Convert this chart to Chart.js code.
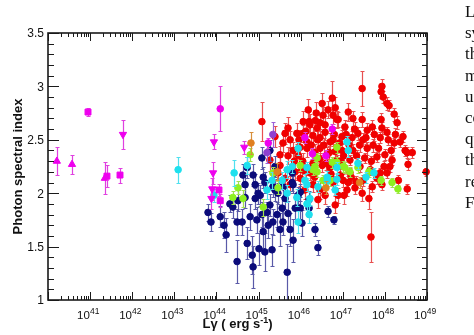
<!DOCTYPE html>
<html>
<head>
<meta charset="utf-8">
<script src="https://cdn.jsdelivr.net/npm/chart.js@4.4.1/dist/chart.umd.min.js"></script>
<style>
  html, body { margin: 0; padding: 0; background: #fff; overflow: hidden; }
  #wrap { position: relative; width: 474px; height: 335px; }
  #page-text {
    position: absolute; left: 465px; top: 1px;
    font-family: "Liberation Serif", "DejaVu Serif", serif;
    font-size: 17px; line-height: 21.2px; color: #111; white-space: nowrap;
  }
</style>
</head>
<body>
<div id="wrap">
  <canvas id="chart"></canvas>
  <div id="page-text">Lum<br>syn<br>the<br>mod<br>use<br>com<br>qua<br>the<br>rel<br>Fig</div>
</div>
<script>
// each point: [log10 L_gamma, photon index, error]
const fsrqPoints = [
  [45.08,2.67,0.18],[45.63,2.56,0.10],[45.39,2.53,0.10],[45.58,2.47,0.08],[45.75,2.50,0.08],[45.91,2.56,0.10],[46.06,2.56,0.08],[45.99,2.43,0.08],
  [46.51,2.84,0.10],[46.75,2.89,0.16],[46.65,2.78,0.08],[46.82,2.80,0.10],[46.86,2.69,0.08],[46.58,2.64,0.08],[46.22,2.64,0.10],[46.39,2.61,0.08],
  [46.29,2.54,0.08],[46.46,2.52,0.08],[46.70,2.48,0.08],[46.15,2.42,0.08],[46.34,2.38,0.08],[46.63,2.36,0.07],[46.82,2.39,0.07],[46.51,2.26,0.06],
  [46.70,2.24,0.06],[45.51,2.26,0.08],[45.82,2.40,0.08],[47.46,2.98,0.16],[47.93,3.00,0.07],[47.91,2.95,0.06],[47.96,2.90,0.06],[48.05,2.84,0.06],
  [48.10,2.82,0.05],[48.22,2.74,0.06],[48.29,2.66,0.06],[47.91,2.69,0.06],[47.93,2.61,0.06],[48.05,2.57,0.05],[47.89,2.52,0.05],[48.08,2.50,0.05],
  [48.22,2.47,0.05],[48.36,2.48,0.05],[48.43,2.53,0.05],[48.48,2.40,0.05],[48.53,2.38,0.05],[48.55,2.27,0.05],[48.98,2.20,0.04],[46.20,2.67,0.10],
  [46.37,2.75,0.10],[46.46,2.66,0.08],[46.53,2.73,0.08],[46.77,2.73,0.08],[46.89,2.69,0.07],[47.13,2.76,0.08],[47.24,2.70,0.07],[47.05,2.62,0.07],
  [47.46,2.69,0.07],[47.58,2.59,0.07],[47.70,2.62,0.07],[47.36,2.56,0.06],[47.48,2.50,0.06],[47.72,2.45,0.06],[47.22,2.52,0.06],[46.98,2.53,0.06],
  [46.77,2.50,0.06],[46.58,2.57,0.07],[46.06,2.67,0.10],[46.15,2.48,0.08],[46.46,2.42,0.06],[46.98,2.40,0.06],[47.24,2.40,0.06],[47.58,2.42,0.06],
  [47.81,2.34,0.05],[48.00,2.36,0.05],[48.17,2.31,0.05],[47.17,2.31,0.05],[46.86,2.31,0.05],[47.41,2.25,0.05],[47.65,2.22,0.05],[47.89,2.19,0.05],
  [46.70,2.25,0.05],[46.29,2.28,0.06],[48.65,2.38,0.05],[48.32,2.12,0.05],[48.53,2.04,0.05],[48.05,2.19,0.05],[48.12,2.25,0.05],[47.81,2.14,0.05],
  [47.93,2.08,0.05],[47.70,2.06,0.05],[47.46,2.00,0.07],[47.62,1.95,0.10],[47.29,2.05,0.06],[47.13,2.10,0.06],[47.03,1.98,0.08],[46.89,1.98,0.07],
  [47.31,2.11,0.05],[47.48,2.12,0.05],[47.17,2.19,0.05],[46.77,2.10,0.06],[47.01,2.12,0.06],[45.46,2.19,0.08],[46.46,2.03,0.08],[46.29,2.08,0.07],
  [47.67,1.59,0.23],[45.99,2.14,0.07],[46.10,2.03,0.08],[46.58,1.98,0.08],[46.41,1.94,0.08],[46.82,1.89,0.08],[45.87,2.20,0.08],[45.75,2.08,0.08],
  [45.63,2.14,0.08],[46.22,2.19,0.07],[46.94,2.17,0.06],[47.10,2.03,0.06],[45.70,2.61,0.10],[45.27,2.31,0.10],[45.51,2.36,0.08],[46.18,2.78,0.10],
  [46.05,2.30,0.08],[46.12,2.20,0.07],[46.25,2.45,0.08],[46.33,2.15,0.07],[46.40,2.50,0.08],[46.45,2.32,0.06],[46.55,2.45,0.07],[46.60,2.28,0.06],
  [46.68,2.38,0.06],[46.72,2.18,0.06],[46.80,2.55,0.07],[46.92,2.47,0.06],[46.95,2.30,0.06],[47.02,2.35,0.06],[47.08,2.55,0.07],[47.15,2.45,0.06],
  [47.20,2.15,0.05],[47.28,2.60,0.07],[47.33,2.35,0.05],[47.40,2.45,0.06],[47.52,2.33,0.05],[47.55,2.52,0.06],[47.68,2.30,0.05],[47.75,2.55,0.06],
  [47.85,2.42,0.05],[47.98,2.25,0.05],[48.15,2.40,0.05],[48.25,2.55,0.06],[45.85,2.30,0.08],[45.95,2.35,0.08],[46.02,2.22,0.07],[45.70,2.35,0.08],
  [46.35,2.68,0.10],[46.12,2.58,0.09],[45.96,2.50,0.09]
];
const bllacPoints = [
  [43.80,1.82,0.08],[43.87,1.73,0.08],[44.09,1.78,0.10],[44.18,1.70,0.12],[44.23,1.61,0.16],[44.32,1.90,0.08],[44.39,1.87,0.10],[44.49,1.36,0.20],
  [44.49,1.73,0.12],[44.51,1.93,0.10],[44.61,1.73,0.12],[44.68,1.96,0.10],[44.73,1.53,0.15],[44.80,1.78,0.12],[44.85,1.42,0.18],[44.87,1.31,0.20],
  [44.92,1.95,0.10],[44.96,1.75,0.12],[45.01,1.48,0.15],[45.08,1.80,0.12],[45.11,1.64,0.15],[45.15,1.45,0.18],[45.20,1.82,0.10],[45.23,1.70,0.12],
  [45.27,1.89,0.10],[45.32,1.47,0.15],[45.34,1.73,0.12],[45.39,2.03,0.10],[45.44,1.80,0.12],[45.51,1.66,0.15],[45.56,1.86,0.10],[45.58,1.73,0.12],
  [45.63,1.95,0.10],[45.68,1.26,0.26],[45.70,1.81,0.12],[45.75,1.66,0.15],[45.80,2.10,0.08],[45.82,1.56,0.20],[45.87,1.86,0.10],[45.94,1.98,0.08],
  [45.99,1.86,0.10],[46.03,1.72,0.12],[46.20,1.94,0.08],[46.20,1.86,0.08],[46.34,1.66,0.06],[46.41,1.49,0.07],[46.65,1.83,0.05],[46.79,1.75,0.04],
  [45.27,2.40,0.10],[45.08,2.33,0.10],[44.73,2.24,0.10],[44.87,2.17,0.10],[45.11,2.15,0.10],[45.39,2.25,0.10],[44.92,2.08,0.10],[45.34,2.06,0.10],
  [45.58,2.06,0.10],[45.82,2.08,0.08],[45.99,2.01,0.08],[44.68,2.08,0.10],[45.04,1.98,0.10],[44.63,2.17,0.10],[45.80,2.19,0.08],[45.15,2.10,0.10],
  [45.46,2.00,0.10],[44.99,2.00,0.10]
];
const cyanPoints = [
  [43.09,2.22,0.12],[43.94,1.98,0.06],[44.42,2.19,0.12],[44.73,2.26,0.08],[45.94,2.42,0.06],[45.68,2.22,0.08],[45.80,2.25,0.06],[45.56,2.12,0.08],
  [46.15,2.08,0.06],[46.41,2.06,0.05],[46.63,2.15,0.06],[47.10,2.48,0.06],[47.13,2.40,0.06],[47.36,2.28,0.05],[46.86,2.24,0.05],[46.15,2.24,0.05],
  [47.55,2.15,0.05],[47.74,2.19,0.05],[46.86,2.13,0.05],[46.82,2.03,0.05],[46.63,2.12,0.05],[46.22,1.95,0.06],[46.15,1.90,0.06],[45.94,1.73,0.10],
  [46.20,1.80,0.08],[45.32,2.12,0.08],[45.68,2.00,0.08],[45.91,1.96,0.08],[46.10,2.12,0.06],[45.20,2.03,0.08]
];
const greenPoints = [
  [44.80,2.36,0.06],[46.86,2.43,0.05],[45.99,2.26,0.05],[46.39,2.20,0.05],[46.53,2.12,0.05],[44.63,1.95,0.08],[45.34,2.19,0.06],[46.75,2.29,0.05],
  [47.01,2.25,0.05],[46.34,2.25,0.05],[46.39,2.33,0.05],[47.91,2.12,0.04],[48.17,2.10,0.04],[48.31,2.04,0.04],[46.86,2.29,0.05],[47.05,2.24,0.05],
  [47.17,2.20,0.05],[47.36,2.24,0.05],[47.62,2.20,0.05],[46.70,2.12,0.05],[46.29,2.22,0.05],[44.51,2.05,0.06],[45.46,2.05,0.06],[45.11,1.87,0.08],
  [44.39,1.96,0.06]
];
const orangePoints = [[44.82,2.47,0.10],[45.44,2.20,0.08],[46.60,2.05,0.06],[47.40,2.10,0.05]];
const purplePoints = [[45.34,2.55,0.12],[45.20,2.38,0.10]];
const magTriPoints = [[40.21,2.30,0.13],[40.57,2.27,0.09],[41.35,2.14,0.15]];
const magSquarePoints = [[40.95,2.76,0.04],[41.40,2.16,0.10],[41.71,2.17,0.07],[44.06,2.03,0.06],[44.09,1.93,0.06]];
const magInvPoints = [[41.78,2.55,0.14],[43.94,2.48,0.07],[43.92,2.19,0.10],[43.90,2.04,0.10],[43.88,1.95,0.10],[44.66,2.43,0.06]];
const magCirclePoints = [[44.09,2.79,0.21],[45.23,2.47,0.05],[46.10,2.52,0.05],[46.75,2.60,0.05],[46.60,2.35,0.05],[46.28,2.37,0.05]];

const xDecades = [40, 41, 42, 43, 44, 45, 46, 47, 48, 49];
const xLabelExps = ['41', '42', '43', '44', '45', '46', '47', '48', '49'];
const yTickValues = [1, 1.5, 2, 2.5, 3, 3.5];
const yTickLabels = ['1', '1.5', '2', '2.5', '3', '3.5'];

function toXY(list) {
  return list.map(p => ({ x: Math.pow(10, p[0]), y: p[1], err: p[2] }));
}

function series(list, color, errColor, style, radius, order, rotation) {
  return {
    data: toXY(list),
    backgroundColor: color,
    borderColor: color,
    borderWidth: 1,
    pointStyle: style,
    pointRadius: radius,
    pointRotation: rotation || 0,
    errColor: errColor,
    order: order,
    showLine: false,
    clip: false
  };
}

// error bars drawn just before each dataset's markers
const errorBars = {
  id: 'errorBars',
  beforeDatasetDraw(chart, args) {
    const ds = chart.data.datasets[args.index];
    const { ctx, chartArea: a } = chart;
    const xs = chart.scales.x, ys = chart.scales.y;
    ctx.save();
    ctx.beginPath();
    ctx.rect(a.left, a.top, a.right - a.left, a.bottom - a.top);
    ctx.clip();
    ctx.strokeStyle = ds.errColor;
    ctx.lineWidth = 1.2;
    ds.data.forEach(p => {
      const x = Math.round(xs.getPixelForValue(p.x)) + 0.5;
      const top = Math.round(ys.getPixelForValue(p.y + p.err)) + 0.5;
      const bot = Math.round(ys.getPixelForValue(p.y - p.err)) + 0.5;
      ctx.beginPath();
      ctx.moveTo(x, top); ctx.lineTo(x, bot);
      ctx.moveTo(x - 2, top); ctx.lineTo(x + 2, top);
      ctx.moveTo(x - 2, bot); ctx.lineTo(x + 2, bot);
      ctx.stroke();
    });
    ctx.restore();
  }
};

// frame, inward ticks, tick labels and axis titles
const axesFrame = {
  id: 'axesFrame',
  afterDraw(chart) {
    const { ctx, chartArea: a } = chart;
    const xs = chart.scales.x, ys = chart.scales.y;
    ctx.save();
    ctx.strokeStyle = '#1a1a1a';
    ctx.fillStyle = '#111';
    ctx.lineWidth = 1;
    ctx.beginPath();
    xDecades.forEach(d => {
      for (let k = 1; k <= 9; k++) {
        if (d === 49 && k > 1) break;
        const px = Math.round(xs.getPixelForValue(k * Math.pow(10, d))) + 0.5;
        const len = k === 1 ? 8 : 4;
        ctx.moveTo(px, a.bottom); ctx.lineTo(px, a.bottom - len);
        ctx.moveTo(px, a.top); ctx.lineTo(px, a.top + len);
      }
    });
    for (let i = 10; i <= 35; i++) {
      const py = Math.round(ys.getPixelForValue(i / 10)) + 0.5;
      const major = i % 5 === 0;
      ctx.moveTo(a.left, py); ctx.lineTo(a.left + (major ? 11 : 6), py);
      ctx.moveTo(a.right, py); ctx.lineTo(a.right - (major ? 10 : 5), py);
    }
    ctx.stroke();

    ctx.lineWidth = 1.6;
    ctx.strokeRect(a.left, a.top, a.right - a.left, a.bottom - a.top);

    // y tick labels
    ctx.font = '12px "Liberation Sans", Arial, sans-serif';
    ctx.textAlign = 'right';
    ctx.textBaseline = 'middle';
    yTickValues.forEach((v, i) => {
      ctx.fillText(yTickLabels[i], a.left - 4, ys.getPixelForValue(v) + 1);
    });

    // x tick labels 10^n
    ctx.textAlign = 'left';
    ctx.textBaseline = 'alphabetic';
    xLabelExps.forEach(e => {
      const px = xs.getPixelForValue(Math.pow(10, Number(e)));
      ctx.font = '11.5px "Liberation Sans", Arial, sans-serif';
      const w1 = ctx.measureText('10').width;
      ctx.fillText('10', px - 13, a.bottom + 18.5);
      ctx.font = '8.5px "Liberation Sans", Arial, sans-serif';
      ctx.fillText(e, px - 13 + w1, a.bottom + 13.5);
    });

    // x title: L_gamma ( erg s^-1 )
    const bold = '"Liberation Sans", Arial, sans-serif';
    const partA = 'L\u03b3 ( erg s';
    const partSup = '-1';
    const partC = ')';
    ctx.font = 'bold 13px ' + bold;
    const wA = ctx.measureText(partA).width;
    const wC = ctx.measureText(partC).width;
    ctx.font = 'bold 9px ' + bold;
    const wS = ctx.measureText(partSup).width;
    let tx = (a.left + a.right) / 2 - (wA + wS + wC) / 2;
    const ty = 327.5;
    ctx.font = 'bold 13px ' + bold;
    ctx.fillText(partA, tx, ty);
    ctx.font = 'bold 9px ' + bold;
    ctx.fillText(partSup, tx + wA, ty - 5);
    ctx.font = 'bold 13px ' + bold;
    ctx.fillText(partC, tx + wA + wS, ty);

    // y title
    ctx.save();
    ctx.translate(22, (a.top + a.bottom) / 2);
    ctx.rotate(-Math.PI / 2);
    ctx.textAlign = 'center';
    ctx.font = 'bold 13px ' + bold;
    ctx.fillText('Photon spectral index', 0, 0);
    ctx.restore();
    ctx.restore();
  }
};

const datasets = [
  series(magCirclePoints, '#ee00ee', '#e040e0', 'circle', 3.3, 1),
  series(magInvPoints, '#ee00ee', '#e040e0', 'triangle', 4.2, 2, 180),
  series(magSquarePoints, '#ee00ee', '#e040e0', 'rect', 4.2, 3),
  series(magTriPoints, '#ee00ee', '#e040e0', 'triangle', 4.2, 4),
  series(purplePoints, '#9040d0', '#9a60d8', 'circle', 3.3, 5),
  series(orangePoints, '#e08020', '#d8903c', 'circle', 3.3, 6),
  series(cyanPoints, '#1ee0ee', '#50e0ee', 'circle', 3.3, 7),
  series(greenPoints, '#8ef020', '#a2e050', 'circle', 3.3, 8),
  series(bllacPoints, '#0b0b7a', '#5a5aa8', 'circle', 3.3, 9),
  series(fsrqPoints, '#f00000', '#e85050', 'circle', 3.3, 10)
];

new Chart(document.getElementById('chart'), {
  type: 'scatter',
  data: { datasets: datasets },
  options: {
    responsive: true,
    maintainAspectRatio: false,
    devicePixelRatio: 1,
    animation: false,
    events: [],
    layout: { padding: { left: 48, right: 47, top: 33, bottom: 35 } },
    plugins: { legend: { display: false }, tooltip: { enabled: false } },
    scales: {
      x: { type: 'logarithmic', min: 1e40, max: 1e49, display: false },
      y: { type: 'linear', min: 1, max: 3.5, display: false }
    }
  },
  plugins: [errorBars, axesFrame]
});
</script>
</body>
</html>
